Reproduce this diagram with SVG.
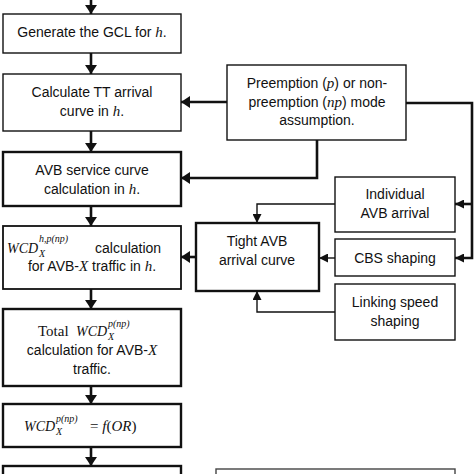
<svg xmlns="http://www.w3.org/2000/svg" width="474" height="474" viewBox="0 0 474 474">
<style>
.box{fill:#fff;stroke:#111;stroke-width:1.4}
.thick{stroke-width:2.4}
.t{font-family:"Liberation Sans",Arial,sans-serif;font-size:14px;fill:#111;text-anchor:middle}
.m{font-family:"Liberation Serif","Times New Roman",serif;font-style:italic}
.ms{font-family:"Liberation Serif","Times New Roman",serif;font-size:14px;fill:#111}
.i{font-style:italic}
.s{font-size:10px}
.c{fill:none;stroke:#111;stroke-width:2.6}
.cn{fill:none;stroke:#111;stroke-width:1.4}
</style>
<defs>
<marker id="ah" viewBox="0 0 9 12" markerWidth="9" markerHeight="12" refX="9" refY="6" orient="auto" markerUnits="userSpaceOnUse"><path d="M0,0 L9,6 L0,12 z" fill="#111"/></marker>
<marker id="as" viewBox="0 0 9 9" markerWidth="9" markerHeight="9" refX="9" refY="4.5" orient="auto" markerUnits="userSpaceOnUse"><path d="M0,0 L9,4.5 L0,9 z" fill="#111"/></marker>
</defs>
<g id="connectors">
<path class="c" d="M91,0 V14" marker-end="url(#ah)"/>
<path class="c" d="M91,53 V74" marker-end="url(#ah)"/>
<path class="c" d="M91,131 V152" marker-end="url(#ah)"/>
<path class="c" d="M91,206 V226" marker-end="url(#ah)"/>
<path class="c" d="M91,289 V309" marker-end="url(#ah)"/>
<path class="c" d="M91,386 V404" marker-end="url(#ah)"/>
<path class="c" d="M91,447 V466" marker-end="url(#ah)"/>
<path class="c" d="M227,102 H181" marker-end="url(#ah)"/>
<path class="c" d="M317,140 V178 H181" marker-end="url(#ah)"/>
<path class="c" d="M406,103 H472 V258 H455" marker-end="url(#as)"/>
<path class="c" d="M472,204 H455" marker-end="url(#as)"/>
<path class="cn" d="M335,204 H257 V223" marker-end="url(#as)"/>
<path class="cn" d="M335,258 H319" marker-end="url(#as)"/>
<path class="cn" d="M335,312 H257 V291" marker-end="url(#as)"/>
<path class="c" d="M196,257 H181" marker-end="url(#ah)"/>
</g>
<g id="gcl">
<rect class="box" x="3" y="14" width="178" height="39"/>
<text class="t" x="92" y="37">Generate the GCL for <tspan class="m" font-size="15">h</tspan>.</text>
</g>
<g id="tt">
<rect class="box" x="3" y="74" width="178" height="57"/>
<text class="t" x="92" y="97">Calculate TT arrival</text>
<text class="t" x="92" y="116">curve in <tspan class="m" font-size="15">h</tspan>.</text>
</g>
<g id="avbservice">
<rect class="box thick" x="3" y="152" width="178" height="54"/>
<text class="t" x="92" y="175">AVB service curve</text>
<text class="t" x="92" y="194">calculation in <tspan class="m" font-size="15">h</tspan>.</text>
</g>
<g id="wcdh">
<rect class="box" x="3" y="226" width="178" height="63" style="stroke-width:1.8"/>
<text class="ms i" x="7" y="253">WCD</text>
<text class="ms i s" x="39" y="257">X</text>
<text class="ms i s" x="39" y="242">h,p(np)</text>
<text class="t" x="95" y="253" style="text-anchor:start">calculation</text>
<text class="t" x="92" y="271">for AVB-<tspan class="m" font-size="15">X</tspan> traffic in <tspan class="m" font-size="15">h</tspan>.</text>
</g>
<g id="total">
<rect class="box thick" x="3" y="309" width="178" height="77"/>
<text class="ms" x="38" y="336" style="font-size:15px">Total</text>
<text class="ms i" x="76" y="336">WCD</text>
<text class="ms i s" x="108" y="340">X</text>
<text class="ms i s" x="108" y="327">p(np)</text>
<text class="t" x="92" y="355">calculation for AVB-<tspan class="m" font-size="15">X</tspan></text>
<text class="t" x="92" y="374">traffic.</text>
</g>
<g id="fOR">
<rect class="box thick" x="3" y="404" width="178" height="43"/>
<text class="ms i" x="24" y="431">WCD</text>
<text class="ms i s" x="56" y="435">X</text>
<text class="ms i s" x="56" y="422">p(np)</text>
<text class="ms" x="90" y="431" style="font-size:15px">= <tspan class="i">f</tspan>(<tspan class="i">OR</tspan>)</text>
</g>
<g id="next">
<rect class="box thick" x="3" y="466" width="178" height="20"/>
</g>
<g id="preemption">
<rect class="box" x="227" y="65" width="179" height="75"/>
<text class="t" x="317" y="88">Preemption (<tspan class="m" font-size="15">p</tspan>) or non-</text>
<text class="t" x="317" y="107">preemption (<tspan class="m" font-size="15">np</tspan>) mode</text>
<text class="t" x="317" y="125">assumption.</text>
</g>
<g id="individual">
<rect class="box" x="335" y="177" width="120" height="55"/>
<text class="t" x="395" y="199">Individual</text>
<text class="t" x="395" y="218">AVB arrival</text>
</g>
<g id="cbs">
<rect class="box" x="335" y="239" width="120" height="37"/>
<text class="t" x="395" y="263">CBS shaping</text>
</g>
<g id="linking">
<rect class="box" x="335" y="284" width="120" height="56"/>
<text class="t" x="395" y="307">Linking speed</text>
<text class="t" x="395" y="326">shaping</text>
</g>
<g id="tight">
<rect class="box thick" x="196" y="223" width="123" height="68"/>
<text class="t" x="257" y="246">Tight AVB</text>
<text class="t" x="257" y="265">arrival curve</text>
</g>
<g id="bottomright">
<rect class="box" x="216" y="469" width="239" height="20" style="stroke:#444"/>
</g>
</svg>
